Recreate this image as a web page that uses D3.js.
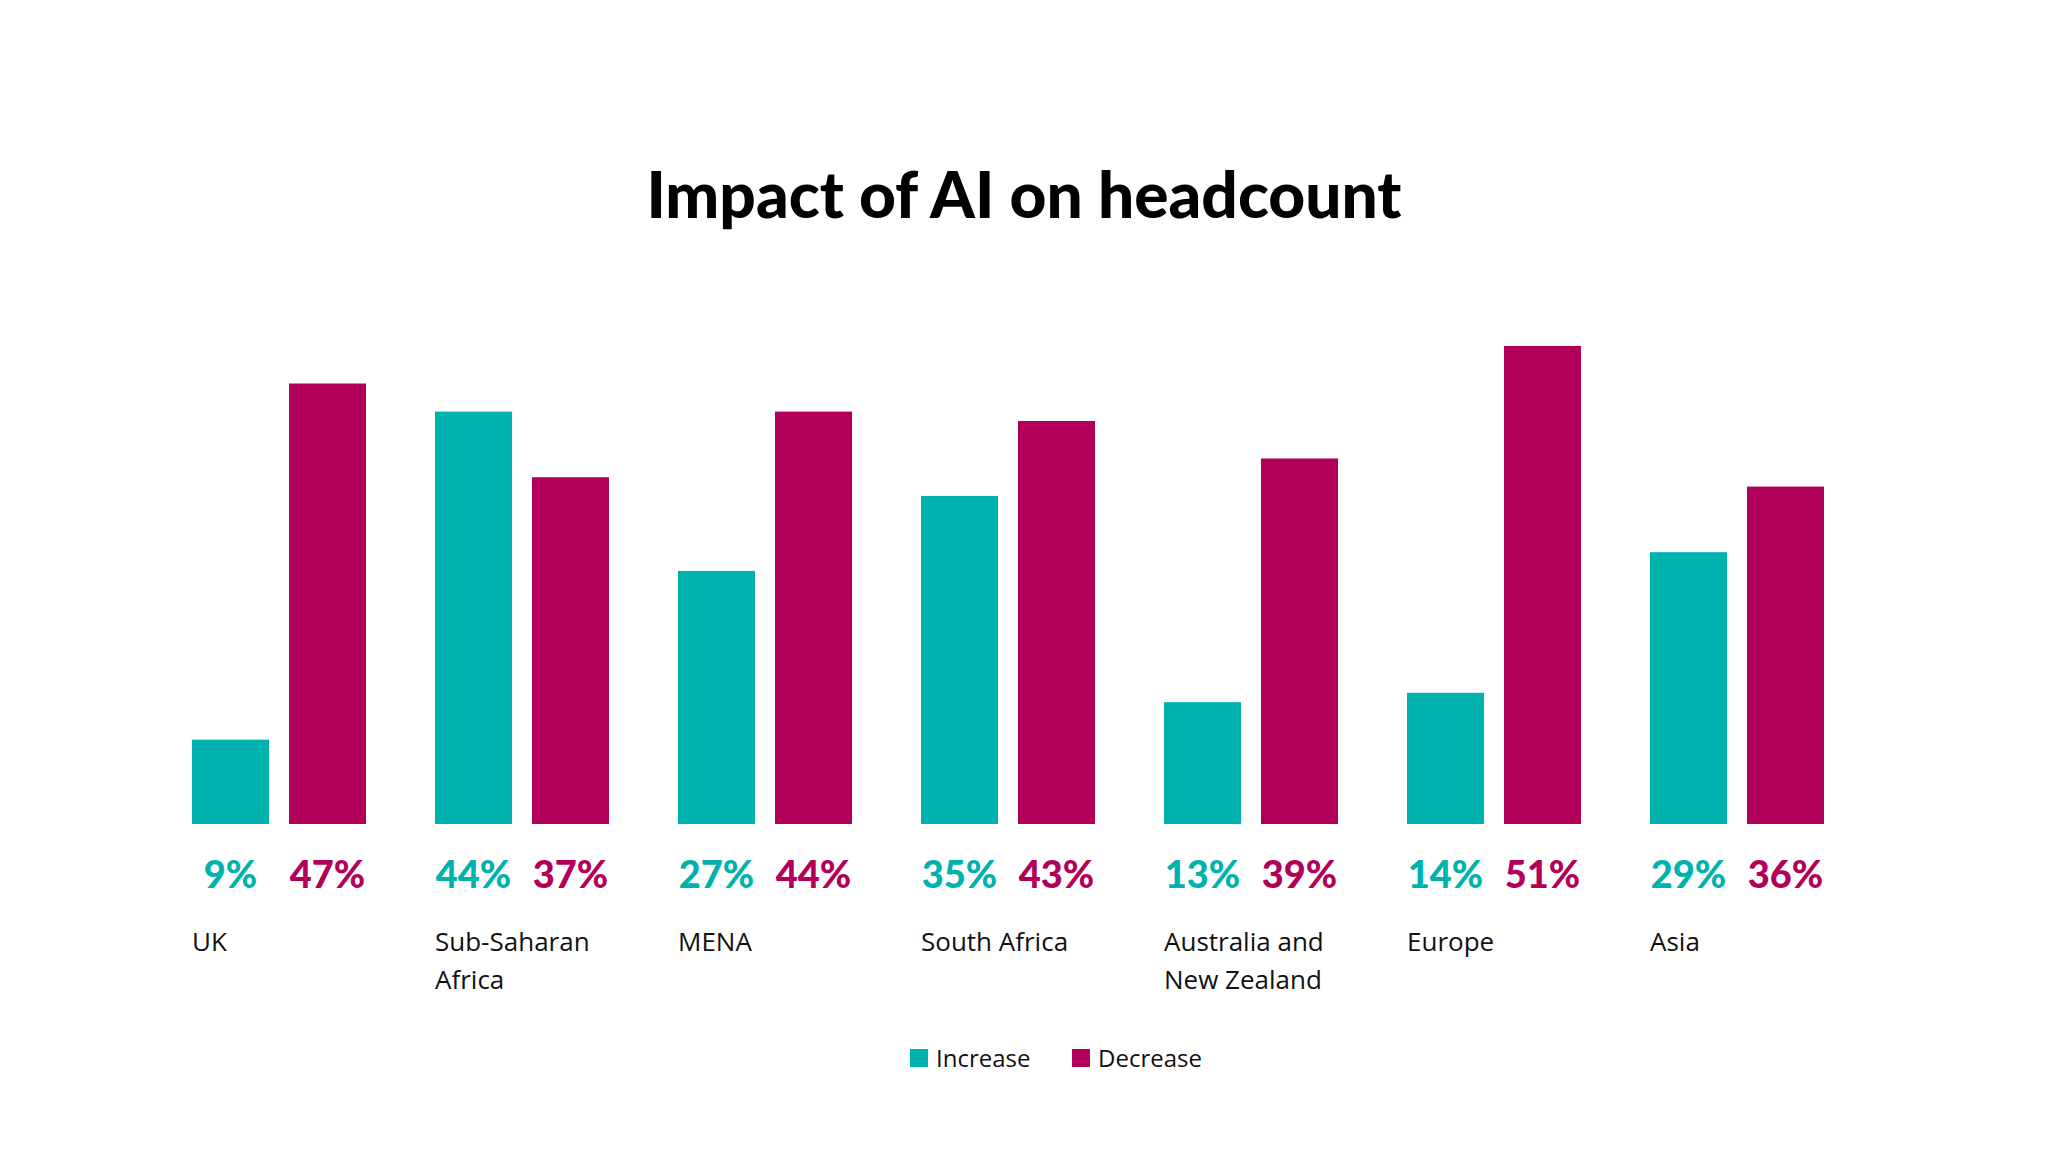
<!DOCTYPE html>
<html><head><meta charset="utf-8">
<script src="https://cdn.jsdelivr.net/npm/d3@7"></script>
<style>body{margin:0;background:#fff}</style></head>
<body><svg id="c" width="2048" height="1152"></svg>
<script>
const categories = [["UK"],["Sub-Saharan","Africa"],["MENA"],["South Africa"],["Australia and","New Zealand"],["Europe"],["Asia"]];
const series = ["Increase","Decrease"];
const increase = [9,44,27,35,13,14,29];
const decrease = [47,37,44,43,39,51,36];
const colors = {Increase:"#00B2AE", Decrease:"#B2005A"};

const svg = d3.select("#c");
const x0 = d3.scaleBand().domain(d3.range(categories.length)).range([192,1824]).paddingInner(69/243).paddingOuter(0);
const x1 = d3.scaleBand().domain(series).range([0,x0.bandwidth()]).paddingInner(0.206).paddingOuter(0);
const y = d3.scaleLinear().domain([0,51]).range([824,346]);

svg.append("text").attr("x",1024).attr("y",218).attr("text-anchor","middle")
  .attr("font-family","Lato").attr("font-weight",900).attr("font-size",64).attr("fill","#000")
  .text("Impact of AI on headcount");

const data = categories.map((c,i)=>({i, c, vals:[{s:"Increase",v:increase[i]},{s:"Decrease",v:decrease[i]}]}));
const g = svg.selectAll("g.grp").data(data).enter().append("g").attr("transform",d=>`translate(${x0(d.i)},0)`);
g.selectAll("rect").data(d=>d.vals).enter().append("rect")
  .attr("x",d=>x1(d.s)).attr("width",x1.bandwidth())
  .attr("y",d=>y(d.v)).attr("height",d=>y(0)-y(d.v)).attr("fill",d=>colors[d.s]);
g.selectAll("text.pct").data(d=>d.vals).enter().append("text").attr("class","pct")
  .attr("x",d=>x1(d.s)+x1.bandwidth()/2).attr("y",888).attr("text-anchor","middle")
  .attr("font-family","Lato").attr("font-weight",900).attr("font-size",38).attr("fill",d=>colors[d.s])
  .text(d=>d.v+"%");
g.each(function(d){
  const t = d3.select(this).append("text").attr("font-family","Open Sans").attr("font-size",26).attr("fill","#111");
  d.c.forEach((line,k)=>t.append("tspan").attr("x",0).attr("y",951+k*38).text(line));
});

const lg = svg.append("g");
const lx = [910,1072];
series.forEach((s,k)=>{
  lg.append("rect").attr("x",lx[k]).attr("y",1049).attr("width",18).attr("height",18).attr("fill",colors[s]);
  lg.append("text").attr("x",lx[k]+26).attr("y",1067).attr("font-family","Open Sans").attr("font-size",24).attr("fill","#111").text(s);
});
</script></body></html>
